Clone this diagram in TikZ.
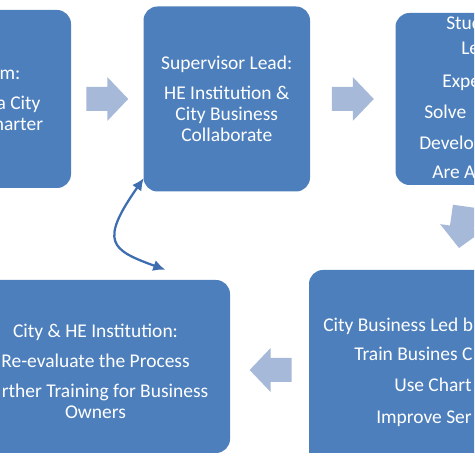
\documentclass[tikz,border=0pt]{standalone}
\usepackage{fontspec}
\setmainfont{Carlito}
\usetikzlibrary{calc,arrows.meta}
\definecolor{boxblue}{RGB}{77,127,188}
\definecolor{arrowblue}{RGB}{167,185,217}
\definecolor{linkblue}{RGB}{62,110,175}
\def\pxl{0.75pt}
\tikzset{
	stage/.style={fill=boxblue, rounded corners=10.5pt, inner sep=0pt},
	stagetext/.style={text=white, font=\fontsize{14.6}{15.75}\selectfont, align=center, inner sep=0pt},
	link/.style={draw=linkblue, line width=1.7pt, <->},
}
% block arrow: centre, angle
\newcommand{\blockarrow}[2]{\fill[arrowblue, shift={#1}, rotate=#2] (-21,-12)--(0,-12)--(0,-22)--(21,0)--(0,22)--(0,12)--(-21,12)--cycle;}
\begin{document}
\begin{tikzpicture}[x=\pxl, y=\pxl, line join=round, line cap=round, >={Latex[length=9pt,width=8.5pt]}]
		\useasboundingbox (0,0) rectangle (474,474);
		\clip (0,0) rectangle (474,474);
		% top row
		\node[stage, minimum width=166*\pxl, minimum height=178*\pxl] (A) at (-12,375) {};
		\node[stage, minimum width=166.5*\pxl, minimum height=185*\pxl, stagetext] (B) at (226.75,375)
			{Supervisor Lead:\\[6.75pt]HE Institution \&\\City Business\\Collaborate};
		\node[stage, minimum width=166.5*\pxl, minimum height=172*\pxl] (C) at (478.75,375) {};
		% bottom row
		\node[stage, minimum width=266*\pxl, minimum height=173*\pxl] (E) at (97,107.5) {};
		\fill[boxblue] (309,21) [rounded corners=10.5pt] -- (309,204) -- (490,204) [sharp corners] -- (490,21) -- cycle;
		\coordinate (D) at (309,112.5);
		% texts cut by the frame
		\node[stagetext, anchor=base east] (A1) at (20.7,394) {m:};
		\node[stagetext, anchor=base east] (A2) at (40.7,364) {a City};
		\node[stagetext, anchor=base east] (A3) at (43.3,343) {harter};
		\node[stagetext, anchor=base west] (C1) at (446,444.5) {Stud};
		\node[stagetext, anchor=base west] (C2) at (461,419.5) {Le};
		\node[stagetext, anchor=base west] (C3) at (442,386.5) {Expe};
		\node[stagetext, anchor=base west] (C4) at (424,355.5) {Solve};
		\node[stagetext, anchor=base west] (C5) at (419,324.5) {Develo};
		\node[stagetext, anchor=base west] (C6) at (432,295.5) {Are A};
		\node[stagetext, anchor=base west] (D1) at (323,142.5) {City Business Led b};
		\node[stagetext, anchor=base west] (D2) at (354,113.5) {Train Busines C};
		\node[stagetext, anchor=base west] (D3) at (394,82.5) {Use Chart};
		\node[stagetext, anchor=base west] (D4) at (376,50.5) {Improve Ser};
		\node[stagetext] (Etxt) at ($(E.center)+(-1.5,-4.5)$)
			{City \& HE Institution:\\[6.75pt]Re-evaluate the Process\\[6.75pt]\hphantom{Fu}rther Training for Business\\Owners};
		% block arrows
		\blockarrow{($(A.east)!0.5!(B.west)$)}{0}
		\blockarrow{($(B.east)!0.5!(C.west)$)}{0}
		\blockarrow{(461.9,246.8)}{-98}
		\blockarrow{($(E.east)!0.5!(D)+(1,-6)$)}{180}
		% feedback link
		\coordinate (topend) at ($(B.south west)+(0.5,13.5)$);
		\coordinate (lowend) at ($(E.north east)+(-65,10)$);
		\draw[link] (lowend) .. controls +(160:58) and +(235:78) .. (topend);
	\end{tikzpicture}
\end{document}
